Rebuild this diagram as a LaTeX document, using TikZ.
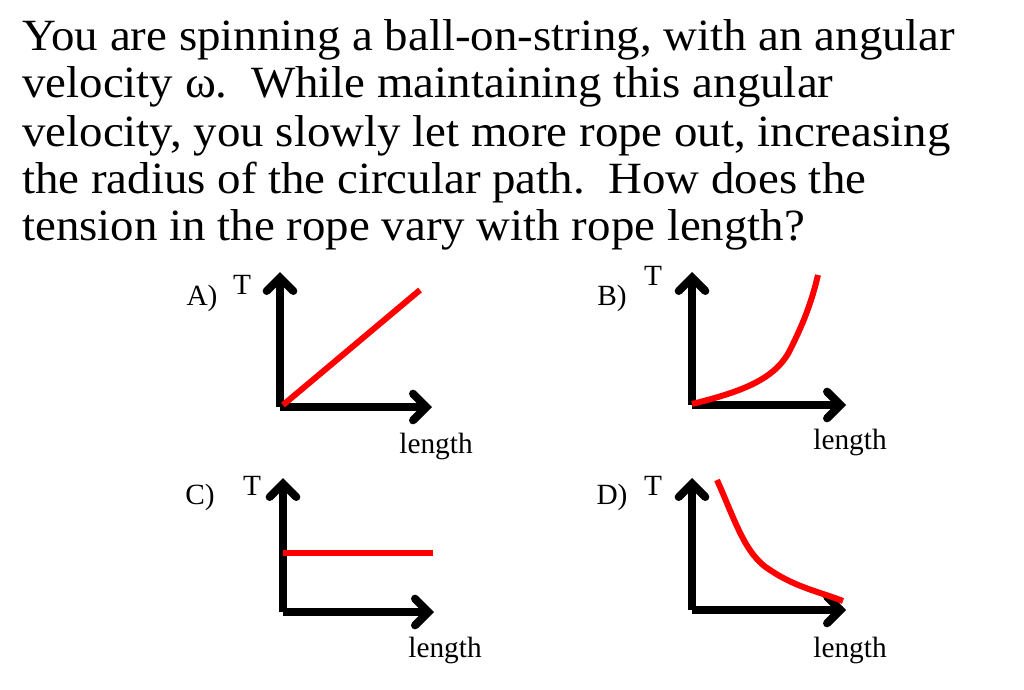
\documentclass[tikz,border=0pt]{standalone}
\usepackage{fontspec}
\setmainfont{Liberation Serif}
\usetikzlibrary{arrows.meta}
\begin{document}
\begin{tikzpicture}[x=0.75pt,y=-0.75pt,
  ax/.style={line width=6pt,-{Straight Barb[length=10pt,width=20pt,line cap=round]}},
  crv/.style={red,line width=4.5pt},
  q/.style={anchor=base west,inner sep=0pt,xscale=1.05,font=\fontsize{33.5}{36}\selectfont},
  lb/.style={inner sep=0pt,font=\fontsize{22}{26}\selectfont}]
\useasboundingbox (0,0) rectangle (1024,689);
\node[q] (l1) at (22,50) {You are spinning a ball-on-string, with an angular};
\node[q] (l2) at (22,97) {velocity ω.\ \ While maintaining this angular};
\node[q] (l3) at (22,146) {velocity, you slowly let more rope out, increasing};
\node[q] (l4) at (22,193) {the radius of the circular path.\ \ How does the};
\node[q] (l5) at (22,240) {tension in the rope vary with rope length?};
% A
\coordinate (ao) at (280,407);
\coordinate (ay) at (280,272); \coordinate (ax) at (432,407);
\draw[ax] (ao) -- (ay); \draw[ax] (ao) -- (ax);
\coordinate (a1) at (283,405); \coordinate (a2) at (420,290);
\draw[crv] (a1) -- (a2);
\node[lb] (al) at (202,298) {A)}; \node[lb] (at) at (242,285) {T};
\node[lb] (alen) at (436,446) {length};
% B
\coordinate (bo) at (692,405);
\coordinate (by) at (692,272); \coordinate (bx) at (846,405);
\draw[ax] (bo) -- (by); \draw[ax] (bo) -- (bx);
\coordinate (b1) at (692,404); \coordinate (b2) at (818,275);
\draw[crv] (b1) .. controls (740,392) and (775,380) .. (790,350) .. controls (805,320) and (812,300) .. (b2);
\node[lb] (bl) at (612,298) {B)}; \node[lb] (bt) at (653,276) {T};
\node[lb] (blen) at (850,442) {length};
% C
\coordinate (co) at (283,612);
\coordinate (cy) at (283,478); \coordinate (cx) at (434,612);
\draw[ax] (co) -- (cy); \draw[ax] (co) -- (cx);
\coordinate (c1) at (283,553); \coordinate (c2) at (433,553);
\draw[crv] (c1) -- (c2);
\node[lb] (cl) at (200,497) {C)}; \node[lb] (ct) at (252,486) {T};
\node[lb] (clen) at (445,650) {length};
% D
\coordinate (do) at (692,610);
\coordinate (dy) at (692,478); \coordinate (dx) at (846,610);
\draw[ax] (do) -- (dy); \draw[ax] (do) -- (dx);
\coordinate (d1) at (717,480); \coordinate (d2) at (843,601);
\draw[crv] (d1) .. controls (735,520) and (745,555) .. (770,570) .. controls (795,587) and (820,592) .. (d2);
\node[lb] (dl) at (612,497) {D)}; \node[lb] (dt) at (653,486) {T};
\node[lb] (dlen) at (850,650) {length};
\end{tikzpicture}
\end{document}
